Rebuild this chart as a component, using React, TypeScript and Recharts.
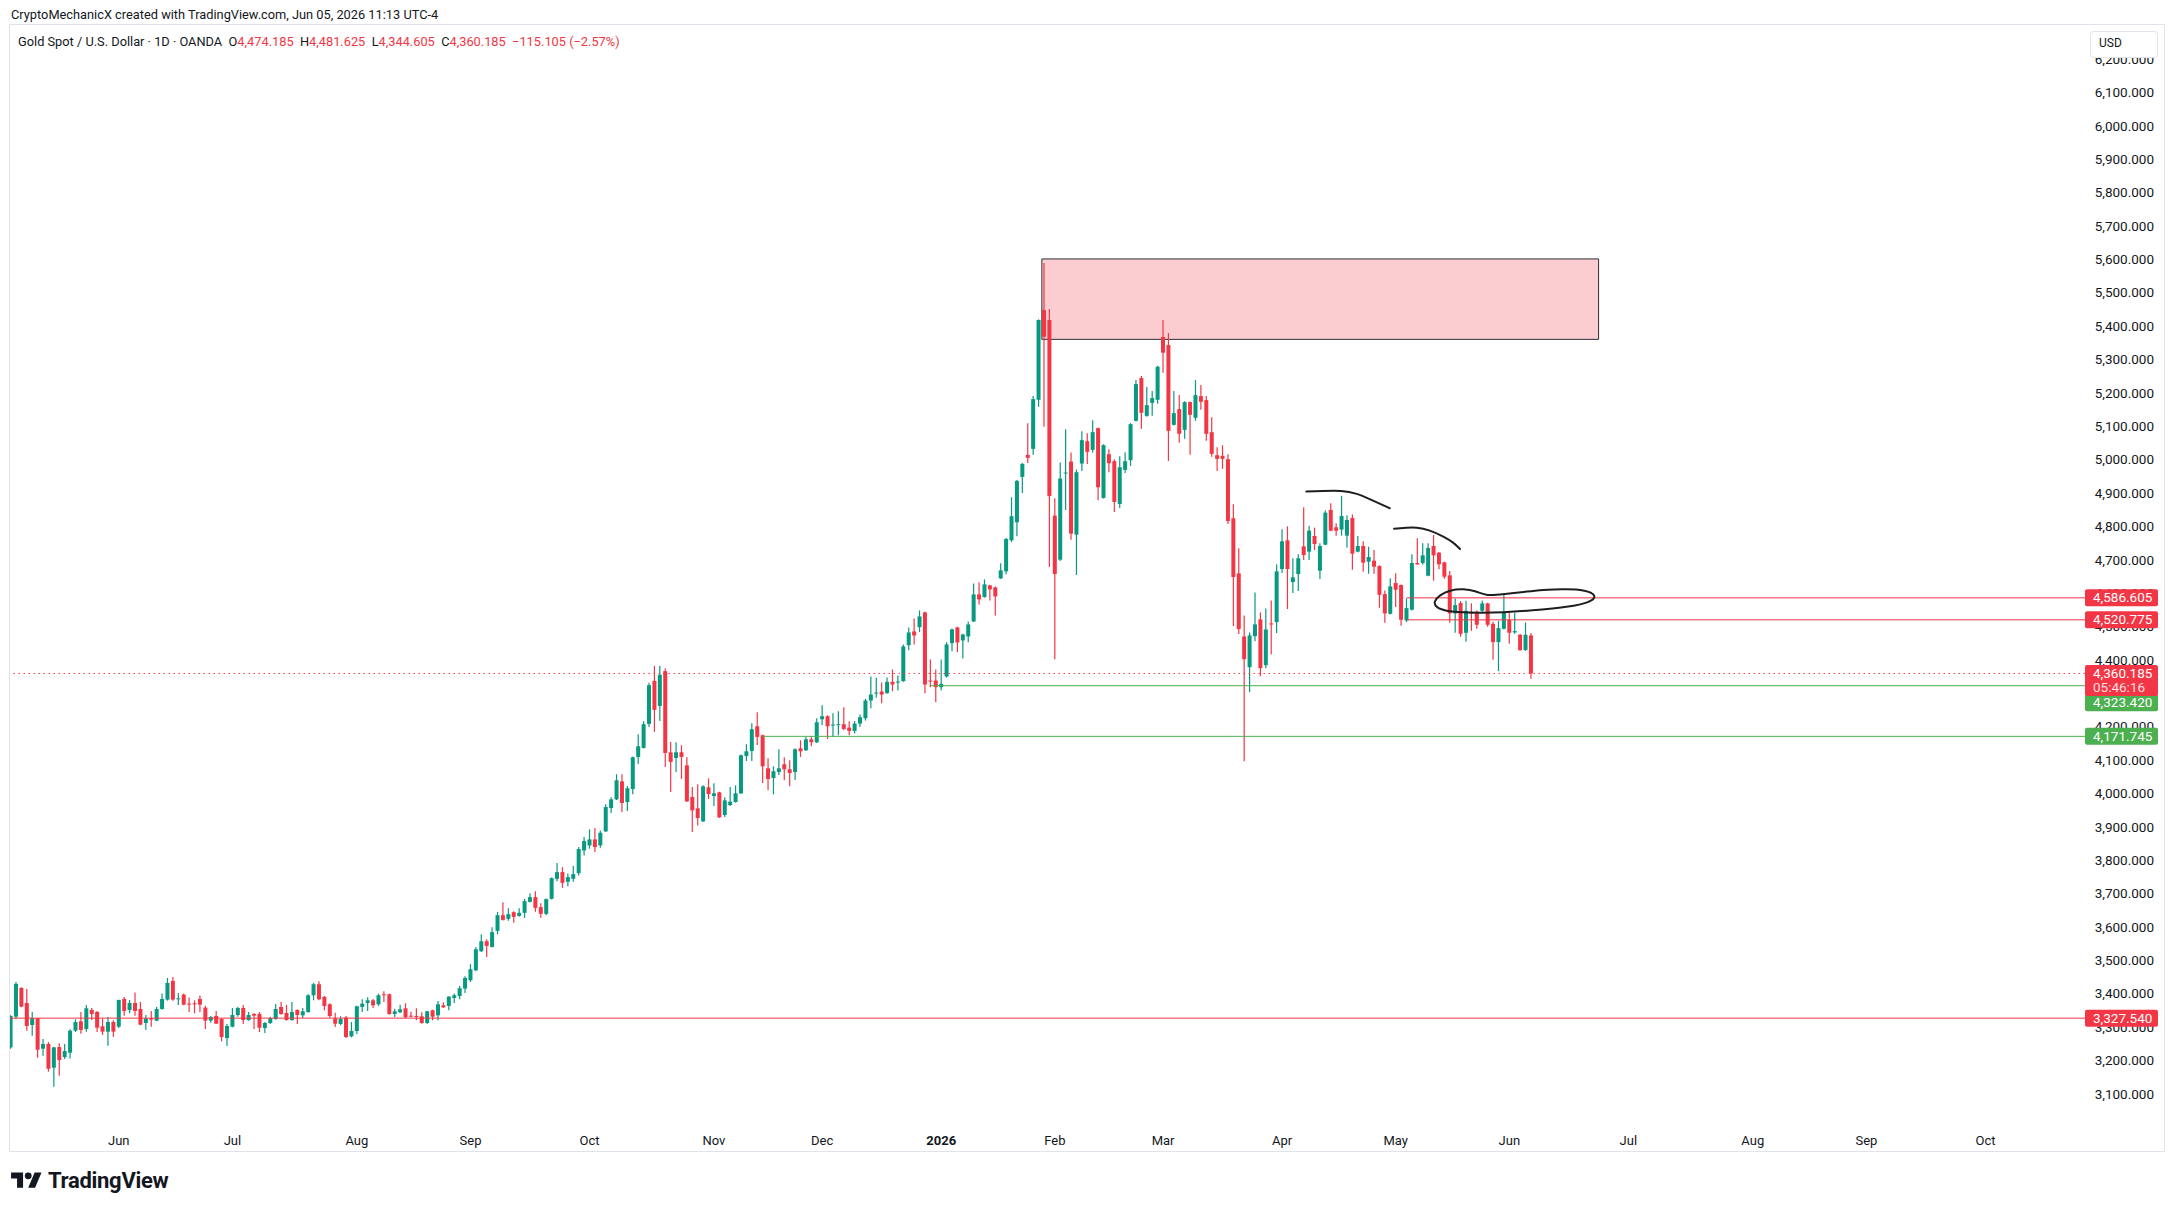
import { ComposedChart, Bar, Line, XAxis, YAxis, ReferenceLine, ReferenceArea } from 'recharts';

// [open, high, low, close] per daily bar
type Ohlc = [number, number, number, number];

const may25: Ohlc[] = [
  [3240, 3336, 3236, 3334], [3332, 3436, 3324, 3430], [3418, 3420, 3360, 3362], [3373, 3415, 3290, 3304],
  [3307, 3346, 3275, 3327], [3327, 3328, 3209, 3233], [3236, 3265, 3215, 3250], [3250, 3256, 3167, 3176],
  [3179, 3242, 3122, 3240], [3241, 3252, 3155, 3202], [3211, 3250, 3205, 3229], [3224, 3294, 3207, 3290],
  [3290, 3324, 3286, 3316], [3318, 3346, 3281, 3292], [3295, 3367, 3287, 3357], [3352, 3358, 3322, 3340],
  [3346, 3349, 3286, 3299], [3303, 3327, 3277, 3287], [3287, 3331, 3245, 3316], [3316, 3321, 3272, 3287],
];
const jun25: Ohlc[] = [
  [3302, 3383, 3298, 3382], [3385, 3391, 3335, 3349], [3352, 3382, 3342, 3373], [3373, 3404, 3335, 3349],
  [3355, 3376, 3306, 3308], [3313, 3337, 3292, 3327], [3327, 3349, 3302, 3323], [3320, 3361, 3318, 3355],
  [3355, 3401, 3353, 3385], [3383, 3448, 3380, 3433], [3439, 3451, 3380, 3383], [3385, 3403, 3367, 3387],
  [3398, 3401, 3366, 3368], [3371, 3389, 3346, 3369], [3372, 3381, 3342, 3369], [3385, 3395, 3346, 3368],
  [3359, 3365, 3295, 3320], [3320, 3334, 3314, 3331], [3334, 3349, 3310, 3311], [3325, 3327, 3258, 3271],
  [3268, 3310, 3244, 3304],
];
const jul25: Ohlc[] = [
  [3302, 3358, 3300, 3337], [3337, 3362, 3332, 3358], [3358, 3367, 3310, 3322], [3322, 3346, 3320, 3337],
  [3340, 3343, 3295, 3335], [3340, 3346, 3286, 3299], [3298, 3316, 3283, 3313], [3313, 3332, 3310, 3327],
  [3325, 3370, 3323, 3355], [3361, 3376, 3338, 3340], [3343, 3367, 3320, 3322], [3322, 3376, 3320, 3346],
  [3352, 3354, 3310, 3337], [3336, 3358, 3328, 3348], [3346, 3399, 3344, 3396], [3396, 3433, 3381, 3429],
  [3429, 3438, 3381, 3384], [3391, 3394, 3351, 3364], [3369, 3372, 3329, 3334], [3327, 3344, 3301, 3311],
  [3310, 3333, 3306, 3325], [3329, 3334, 3268, 3271], [3273, 3316, 3270, 3289],
];
const aug25: Ohlc[] = [
  [3289, 3365, 3280, 3363], [3361, 3384, 3346, 3371], [3373, 3390, 3349, 3381], [3381, 3385, 3358, 3366],
  [3369, 3401, 3364, 3396], [3399, 3408, 3376, 3397], [3399, 3401, 3338, 3340], [3340, 3356, 3331, 3348],
  [3345, 3368, 3343, 3354], [3357, 3372, 3328, 3330], [3335, 3347, 3330, 3333], [3334, 3357, 3321, 3331],
  [3333, 3345, 3311, 3313], [3313, 3350, 3310, 3348], [3351, 3353, 3321, 3332], [3336, 3379, 3321, 3369],
  [3366, 3375, 3358, 3360], [3364, 3393, 3351, 3392], [3388, 3401, 3373, 3396], [3394, 3424, 3384, 3417],
  [3416, 3453, 3403, 3448],
];
const sep25: Ohlc[] = [
  [3441, 3490, 3436, 3474], [3471, 3541, 3468, 3534], [3528, 3579, 3526, 3558], [3558, 3564, 3511, 3544],
  [3541, 3600, 3539, 3585], [3589, 3646, 3579, 3636], [3636, 3675, 3620, 3622], [3625, 3657, 3619, 3639],
  [3645, 3648, 3613, 3631], [3634, 3657, 3631, 3643], [3643, 3685, 3628, 3678], [3676, 3702, 3674, 3690],
  [3690, 3708, 3646, 3658], [3660, 3672, 3628, 3640], [3640, 3686, 3636, 3684], [3685, 3749, 3683, 3747],
  [3745, 3792, 3738, 3765], [3765, 3780, 3718, 3733], [3736, 3761, 3723, 3750], [3745, 3783, 3736, 3759],
  [3762, 3840, 3755, 3834], [3830, 3870, 3815, 3858],
];
const oct25: Ohlc[] = [
  [3845, 3893, 3835, 3863], [3863, 3897, 3825, 3840], [3845, 3890, 3838, 3883], [3887, 3968, 3885, 3960],
  [3957, 3989, 3942, 3983], [3983, 4058, 3981, 4040], [4037, 4058, 3945, 3972], [3975, 4023, 3948, 4016],
  [4014, 4111, 3998, 4109], [4110, 4178, 4089, 4142], [4137, 4217, 4135, 4208], [4209, 4332, 4200, 4325],
  [4338, 4383, 4185, 4251], [4263, 4383, 4218, 4356], [4367, 4376, 4080, 4122], [4124, 4155, 4005, 4095],
  [4107, 4154, 4065, 4124], [4124, 4145, 4044, 4110], [4085, 4109, 3975, 3977], [3990, 4020, 3885, 3950],
  [3956, 4028, 3905, 3927], [3917, 4025, 3915, 4022], [4019, 4046, 3984, 3999],
];
const nov25: Ohlc[] = [
  [3993, 4031, 3963, 4001], [4004, 4006, 3927, 3929], [3936, 3989, 3930, 3980], [3966, 4020, 3963, 3976],
  [3975, 4025, 3973, 4001], [4001, 4117, 3999, 4115], [4113, 4148, 4098, 4127], [4128, 4211, 4098, 4193],
  [4202, 4244, 4146, 4170], [4175, 4177, 4032, 4082], [4076, 4106, 4010, 4044], [4047, 4082, 3998, 4067],
  [4065, 4133, 4056, 4076], [4088, 4109, 4040, 4073], [4073, 4100, 4022, 4062], [4065, 4136, 4041, 4133],
  [4136, 4160, 4110, 4127], [4130, 4170, 4128, 4163], [4163, 4172, 4142, 4154], [4154, 4226, 4152, 4214],
];
const dec25: Ohlc[] = [
  [4223, 4265, 4205, 4232], [4232, 4235, 4164, 4202], [4204, 4241, 4170, 4207], [4205, 4247, 4175, 4208],
  [4208, 4259, 4190, 4194], [4198, 4217, 4175, 4188], [4188, 4218, 4180, 4210], [4210, 4237, 4200, 4229],
  [4226, 4284, 4219, 4279], [4279, 4351, 4256, 4297], [4300, 4347, 4287, 4303], [4306, 4333, 4271, 4297],
  [4301, 4348, 4299, 4335], [4335, 4372, 4307, 4327], [4334, 4354, 4309, 4336], [4337, 4447, 4335, 4441],
  [4445, 4498, 4430, 4483], [4486, 4525, 4447, 4474], [4499, 4549, 4484, 4531], [4543, 4546, 4301, 4327],
  [4339, 4402, 4319, 4337], [4339, 4372, 4274, 4319],
];
const jan26: Ohlc[] = [
  [4319, 4402, 4309, 4329], [4351, 4454, 4348, 4447], [4451, 4495, 4427, 4492], [4498, 4500, 4424, 4453],
  [4459, 4479, 4405, 4477], [4471, 4516, 4454, 4507], [4516, 4630, 4514, 4597], [4597, 4633, 4567, 4582],
  [4589, 4642, 4587, 4627], [4624, 4626, 4579, 4612], [4618, 4621, 4534, 4591], [4645, 4690, 4643, 4669],
  [4666, 4766, 4657, 4763], [4759, 4888, 4754, 4831], [4813, 4940, 4771, 4937], [4949, 4991, 4901, 4988],
  [5015, 5110, 4991, 5006], [5033, 5191, 5015, 5182], [5180, 5421, 5159, 5419], [5449, 5590, 5099, 5369],
  [5419, 5452, 4679, 4892],
];
const feb26: Ohlc[] = [
  [4833, 4885, 4403, 4658], [4701, 4992, 4697, 4944], [4959, 5092, 4850, 4962], [4995, 5022, 4761, 4779],
  [4776, 4971, 4655, 4963], [4989, 5086, 4967, 5059], [5056, 5080, 4988, 5024], [5030, 5119, 5021, 5083],
  [5095, 5097, 4879, 4918], [4886, 5047, 4884, 5044], [5017, 5032, 4963, 4990], [4996, 5002, 4844, 4874],
  [4868, 5011, 4856, 4978], [4970, 5023, 4961, 4996], [4999, 5110, 4982, 5107], [5117, 5239, 5115, 5227],
  [5245, 5251, 5093, 5141], [5132, 5218, 5129, 5164], [5171, 5206, 5132, 5185], [5180, 5282, 5168, 5279],
];
const mar26: Ohlc[] = [
  [5368, 5419, 5261, 5321], [5344, 5380, 4997, 5087], [5105, 5206, 5103, 5140], [5152, 5194, 5051, 5078],
  [5090, 5176, 5063, 5173], [5173, 5175, 5015, 5135], [5126, 5239, 5117, 5194], [5191, 5224, 5150, 5174],
  [5179, 5191, 5057, 5078], [5083, 5128, 5009, 5018], [5014, 5038, 4967, 5003], [5012, 5044, 4973, 5003],
  [5002, 5017, 4808, 4817], [4825, 4867, 4502, 4649], [4660, 4735, 4478, 4493], [4471, 4534, 4097, 4403],
  [4379, 4483, 4304, 4474], [4472, 4603, 4457, 4507], [4522, 4543, 4352, 4376], [4385, 4555, 4376, 4492],
  [4510, 4579, 4418, 4508], [4514, 4687, 4481, 4666],
];
const apr26: Ohlc[] = [
  [4673, 4792, 4661, 4756], [4759, 4801, 4553, 4673], [4634, 4705, 4601, 4648], [4658, 4717, 4607, 4705],
  [4741, 4858, 4700, 4715], [4725, 4803, 4700, 4788], [4772, 4797, 4730, 4748], [4668, 4750, 4643, 4742],
  [4746, 4848, 4744, 4842], [4850, 4870, 4786, 4788], [4798, 4810, 4773, 4788], [4791, 4892, 4773, 4832],
  [4773, 4834, 4737, 4820], [4826, 4836, 4671, 4719], [4725, 4772, 4723, 4742], [4742, 4756, 4665, 4692],
  [4695, 4740, 4659, 4709], [4698, 4730, 4659, 4680], [4682, 4684, 4557, 4596], [4598, 4609, 4512, 4540],
  [4539, 4645, 4537, 4621],
];
const may26: Ohlc[] = [
  [4631, 4660, 4559, 4611], [4625, 4627, 4503, 4521], [4519, 4585, 4514, 4556], [4551, 4717, 4549, 4691],
  [4691, 4765, 4685, 4687], [4691, 4750, 4686, 4714], [4653, 4750, 4651, 4736], [4742, 4775, 4638, 4714],
  [4722, 4724, 4672, 4687], [4693, 4695, 4644, 4650], [4654, 4667, 4512, 4540], [4540, 4585, 4482, 4565],
  [4571, 4577, 4470, 4479], [4482, 4578, 4455, 4548], [4543, 4570, 4488, 4539], [4543, 4549, 4494, 4506],
  [4548, 4579, 4544, 4570], [4570, 4572, 4500, 4506], [4509, 4515, 4401, 4454], [4454, 4518, 4367, 4496],
  [4494, 4596, 4492, 4542],
];
const jun26: Ohlc[] = [
  [4520, 4542, 4449, 4482], [4483, 4542, 4479, 4487], [4476, 4478, 4428, 4430], [4430, 4513, 4428, 4476],
  [4474.185, 4481.625, 4344.605, 4360.185],
];

// time axis: bar index of each month's first bar and its label
const monthTicks = [20, 41, 64, 85, 107, 130, 150, 172, 193, 213, 235, 256, 277, 299, 322, 343, 365];
const monthLabels = ['Jun', 'Jul', 'Aug', 'Sep', 'Oct', 'Nov', 'Dec', '2026', 'Feb', 'Mar', 'Apr', 'May', 'Jun', 'Jul', 'Aug', 'Sep', 'Oct'];

const priceTicks = [
  3100, 3200, 3300, 3400, 3500, 3600, 3700, 3800, 3900, 4000, 4100, 4200, 4300, 4400, 4500, 4600,
  4700, 4800, 4900, 5000, 5100, 5200, 5300, 5400, 5500, 5600, 5700, 5800, 5900, 6000, 6100, 6200,
];

// horizontal levels drawn on the chart
const levelPrices = [4586.605, 4520.775, 4323.42, 4171.745, 3327.54];
const levelStart = [258, 258, 170, 139, -0.11];
const levelColors = ['#f23645', '#f23645', '#4caf50', '#4caf50', '#f23645'];
const lastPrice = 4360.185;
const countdown = '05:46:16';
const dayChange = -115.105;
const dayChangePct = -2.57;

// supply box (bar index, price)
const boxBars = [190.6, 293.5];
const boxPrices = [5361, 5602];

// freehand marks, [bar index, price]
const arcOne = [[239.5, 4905], [242.6, 4907], [245.9, 4907], [248.8, 4898], [251.8, 4878], [254.9, 4855]];
const arcTwo = [[255.7, 4794], [258.0, 4797], [259.9, 4797], [262.3, 4788], [264.8, 4770], [266.6, 4752], [267.9, 4733]];
const loopMark = [
  [272.8, 4592], [270.9, 4607], [268.5, 4614], [266.0, 4610], [264.1, 4595], [263.0, 4575], [263.4, 4558],
  [265.4, 4546], [269.1, 4542], [275.9, 4542], [283.3, 4552], [289.4, 4562], [292.5, 4578], [293.0, 4595],
  [291.3, 4610], [286.9, 4614], [280.8, 4607], [275.9, 4598],
];

const X_DOMAIN = [-0.11, 383.4];
const Y_DOMAIN = [3013.4, 6302.8];

const UP = '#089981';
const DOWN = '#f23645';
const FONT = 'Roboto, "Noto Sans", sans-serif';
const TEXT = '#131722';
const CHART_W = 2154;
const CHART_H = 1126;
const AXIS_W = 79;
const TIME_H = 28;

const candles = [may25, jun25, jul25, aug25, sep25, oct25, nov25, dec25, jan26, feb26, mar26, apr26, may26, jun26]
  .flat()
  .map(([o, h, l, c], i) => ({ i, o, h, l, c, range: [l, h] }));

const toPts = (pts: number[][]) => pts.map(([i, p]) => ({ i, p }));

const fmt = (v: number) =>
  v.toLocaleString('en-US', { minimumFractionDigits: 3, maximumFractionDigits: 3 });

const CandleShape = (props: any) => {
  const { x, y, width, height, payload } = props;
  if (!payload || height == null) return null;
  const { o, h, l, c } = payload;
  const top = Math.min(y, y + height);
  const span = Math.abs(height);
  const k = span / (h - l);
  const py = (v: number) => top + (h - v) * k;
  const color = c >= o ? UP : DOWN;
  const cx = x + width / 2;
  const bodyTop = py(Math.max(o, c));
  const bodyH = Math.max(1, py(Math.min(o, c)) - bodyTop);
  return (
    <g>
      <line x1={cx} x2={cx} y1={top} y2={top + span} stroke={color} strokeWidth={1.2} />
      <rect x={cx - 2} y={bodyTop} width={4} height={bodyH} fill={color} />
    </g>
  );
};

const TimeTick = (props: any) => {
  const { x, y, payload } = props;
  const label = monthLabels[monthTicks.indexOf(payload.value)];
  return (
    <text x={x} y={y + 20} textAnchor="middle" fontSize={13} fontFamily={FONT} fill={TEXT}
      fontWeight={label === '2026' ? 700 : 400}>
      {label}
    </text>
  );
};

const PriceTick = (props: any) => {
  const { x, y, payload } = props;
  return (
    <text x={x + 69} y={y + 4.5} textAnchor="end" fontSize={13.5} fontFamily={FONT} fill={TEXT}>
      {fmt(payload.value)}
    </text>
  );
};

// price tag on the right scale
const badge = (value: number, fill: string, shift = 0, sub?: string) => (p: any) => {
  const vb = p.viewBox || {};
  const bx = vb.x + vb.width;
  const cy = vb.y + shift;
  return (
    <g>
      <rect x={bx} y={cy - 8.5} width={73} height={sub ? 31 : 17} rx={2} fill={fill} />
      <text x={bx + 8} y={cy + 4.5} fill="#fff" fontSize={13.5} fontFamily={FONT}>{fmt(value)}</text>
      {sub && (
        <text x={bx + 8} y={cy + 18.5} fill="rgba(255,255,255,0.85)" fontSize={13.5} fontFamily={FONT}>{sub}</text>
      )}
    </g>
  );
};

const last = candles[candles.length - 1];

export default function App() {
  const red = { color: '#f23645' };
  return (
    <div style={{ position: 'absolute', left: 0, top: 0, width: 2175, height: 1212, background: '#fff', fontFamily: FONT, color: TEXT }}>
      <div style={{ position: 'absolute', left: 11, top: 7, fontSize: 12.8, whiteSpace: 'nowrap' }}>
        CryptoMechanicX created with TradingView.com, Jun 05, 2026 11:13 UTC-4
      </div>
      <div style={{ position: 'absolute', left: 9, top: 24, width: 2156, height: 1128, border: '1px solid #e0e3eb', boxSizing: 'border-box' }} />
      <div style={{ position: 'absolute', left: 10, top: 25 }}>
        <ComposedChart width={CHART_W} height={CHART_H} data={candles} margin={{ top: 0, right: 0, bottom: 0, left: 0 }}>
          <XAxis dataKey="i" type="number" domain={X_DOMAIN} allowDataOverflow ticks={monthTicks} interval={0}
            height={TIME_H} axisLine={false} tickLine={false} tickSize={0} tick={<TimeTick />} />
          <YAxis type="number" orientation="right" domain={Y_DOMAIN} allowDataOverflow ticks={priceTicks} interval={0}
            width={AXIS_W} axisLine={false} tickLine={false} tickSize={0} tickMargin={0} tick={<PriceTick />} />
          <ReferenceArea x1={boxBars[0]} x2={boxBars[1]} y1={boxPrices[0]} y2={boxPrices[1]}
            fill="#f23645" fillOpacity={0.25} stroke="#2a2e39" strokeWidth={1} />
          {levelPrices.map((v, k) => (
            <ReferenceLine key={'seg' + k} segment={[{ x: levelStart[k], y: v }, { x: X_DOMAIN[1], y: v }]}
              stroke={levelColors[k]} strokeWidth={1} />
          ))}
          <ReferenceLine y={lastPrice} stroke="#f23645" strokeWidth={1} strokeDasharray="1.5 3.5" />
          <Bar dataKey="range" barSize={4} shape={<CandleShape />} isAnimationActive={false} />
          <Line data={toPts(arcOne)} dataKey="p" type="natural" dot={false} stroke="#1e1e1e" strokeWidth={2}
            strokeLinecap="round" isAnimationActive={false} />
          <Line data={toPts(arcTwo)} dataKey="p" type="natural" dot={false} stroke="#1e1e1e" strokeWidth={2}
            strokeLinecap="round" isAnimationActive={false} />
          <Line data={toPts(loopMark)} dataKey="p" type="basisClosed" dot={false} stroke="#1e1e1e" strokeWidth={2}
            isAnimationActive={false} />
        </ComposedChart>
      </div>
      {/* same scales again, on top, so the price tags cover the scale labels */}
      <div style={{ position: 'absolute', left: 10, top: 25 }}>
        <ComposedChart width={CHART_W} height={CHART_H} data={candles}
          margin={{ top: 0, right: AXIS_W, bottom: TIME_H, left: 0 }}>
          <XAxis dataKey="i" type="number" domain={X_DOMAIN} allowDataOverflow hide />
          <YAxis type="number" domain={Y_DOMAIN} allowDataOverflow hide />
          {levelPrices.map((v, k) => (
            <ReferenceLine key={'tag' + k} y={v} stroke="none"
              label={badge(v, levelColors[k], k === 2 ? 17 : 0)} />
          ))}
          <ReferenceLine y={lastPrice} stroke="none" label={badge(lastPrice, '#f23645', 0, countdown)} />
        </ComposedChart>
      </div>
      <div style={{ position: 'absolute', left: 18, top: 34, fontSize: 12.8, whiteSpace: 'pre' }}>
        {'Gold Spot / U.S. Dollar · 1D · OANDA  O'}<span style={red}>{fmt(last.o)}</span>
        {'  H'}<span style={red}>{fmt(last.h)}</span>
        {'  L'}<span style={red}>{fmt(last.l)}</span>
        {'  C'}<span style={red}>{fmt(last.c)}</span>
        <span style={red}>{'  −' + Math.abs(dayChange).toFixed(3) + ' (−' + Math.abs(dayChangePct).toFixed(2) + '%)'}</span>
      </div>
      <div style={{ position: 'absolute', left: 2090, top: 31, width: 68, height: 27, border: '1px solid #e0e3eb', borderRadius: 4, background: '#fff', boxSizing: 'border-box', fontSize: 12, lineHeight: '23px', paddingLeft: 8 }}>
        USD
      </div>
      <div style={{ position: 'absolute', left: 11, top: 1168, display: 'flex', alignItems: 'center', gap: 6 }}>
        <svg width={31} height={24} viewBox="0 0 36 28">
          <path d="M14 22H7V11H0V4h14v18zM28 22h-8l7.5-18h8L28 22z" fill="#131722" />
          <circle cx={20} cy={8} r={4} fill="#131722" />
        </svg>
        <span style={{ fontSize: 22, fontWeight: 700, letterSpacing: -0.3 }}>TradingView</span>
      </div>
    </div>
  );
}
